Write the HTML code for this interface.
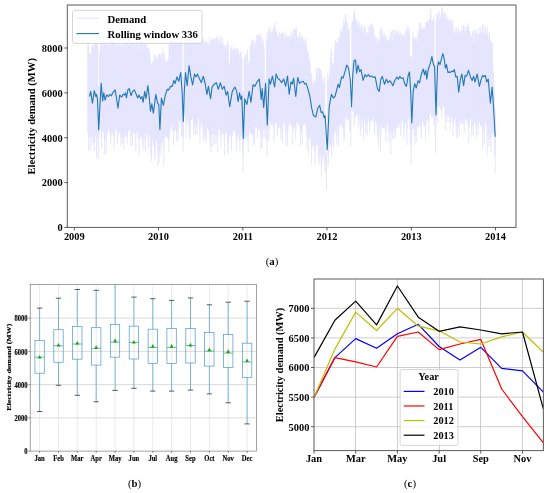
<!DOCTYPE html>
<html><head><meta charset="utf-8"><title>Electricity demand</title>
<style>html,body{margin:0;padding:0;background:#fff}svg{display:block}text{font-family:"Liberation Serif",serif;font-weight:bold;fill:#000}.cap{font-weight:normal}</style></head><body>
<svg width="550" height="493" viewBox="0 0 550 493">
<rect width="550" height="493" fill="#fff"/>
<path d="M88.00 40.1V133.2M88.23 46.7V133.2M88.46 41.0V138.7M88.69 50.7V150.9M88.92 52.3V137.3M89.15 54.7V130.0M89.38 58.3V131.0M89.62 57.5V128.7M89.85 54.0V130.9M90.08 54.3V138.5M90.31 56.8V150.0M90.54 58.8V137.1M90.77 57.1V132.9M91.00 58.4V133.8M91.23 54.5V132.1M91.46 56.9V134.7M91.69 45.6V133.5M91.92 55.4V136.9M92.15 56.1V144.9M92.39 47.4V136.0M92.62 45.7V127.7M92.85 45.8V133.3M93.08 47.4V127.8M93.31 47.4V131.3M93.54 47.4V138.2M93.77 48.0V143.5M94.00 44.1V151.0M94.23 42.9V142.0M94.46 48.5V123.9M94.69 44.3V136.4M94.92 47.8V143.0M95.15 48.4V135.6M95.39 49.2V128.8M95.62 42.3V129.3M95.85 46.2V128.3M96.08 45.8V129.1M96.31 42.5V140.9M96.54 50.7V158.0M96.77 48.7V138.9M97.00 42.6V131.5M97.23 42.1V131.2M97.46 42.8V132.0M97.69 48.2V131.6M97.92 86.9V139.6M98.15 87.7V148.1M98.39 86.7V160.0M98.62 88.3V145.6M98.85 86.2V129.5M99.08 89.3V134.5M99.31 89.2V128.6M99.54 54.4V130.4M99.77 54.0V128.2M100.00 52.4V129.1M100.23 47.5V124.7M100.46 47.4V125.3M100.69 43.4V128.0M100.92 50.6V129.2M101.16 52.7V128.8M101.39 51.6V138.2M101.62 44.3V149.0M101.85 43.1V136.9M102.08 48.0V128.9M102.31 46.2V130.8M102.54 50.9V126.3M102.77 48.5V129.9M103.00 49.5V126.5M103.23 49.6V129.8M103.46 48.2V132.4M103.69 37.5V129.9M103.92 42.5V130.1M104.16 46.6V133.7M104.39 46.0V139.6M104.62 46.8V153.9M104.85 47.5V138.0M105.08 43.2V134.6M105.31 45.5V132.7M105.54 42.3V132.5M105.77 50.3V128.9M106.00 49.5V140.0M106.23 49.7V155.0M106.46 44.4V138.2M106.69 39.1V131.1M106.93 45.2V132.3M107.16 45.1V134.3M107.39 53.9V132.4M107.62 54.8V129.5M107.85 53.3V129.1M108.08 45.4V127.7M108.31 46.0V126.9M108.54 44.5V125.8M108.77 49.2V128.9M109.00 49.6V126.2M109.23 51.3V131.8M109.46 49.1V128.4M109.69 37.8V129.8M109.93 42.0V128.3M110.16 46.8V131.6M110.39 47.2V128.5M110.62 47.6V136.4M110.85 46.2V143.1M111.08 38.7V135.6M111.31 41.4V129.1M111.54 36.9V128.8M111.77 46.5V134.1M112.00 46.8V134.4M112.23 44.4V130.8M112.46 37.4V132.3M112.70 41.3V131.2M112.93 37.4V130.6M113.16 37.8V132.8M113.39 47.7V129.9M113.62 52.4V129.2M113.85 53.5V138.1M114.08 52.2V149.0M114.31 44.0V136.9M114.54 43.9V129.2M114.77 40.8V130.7M115.00 49.4V130.0M115.23 48.7V130.7M115.46 47.8V128.1M115.70 48.0V127.5M115.93 47.0V127.9M116.16 48.1V125.6M116.39 45.1V128.8M116.62 39.0V127.8M116.85 48.5V124.8M117.08 47.3V129.7M117.31 46.9V136.4M117.54 45.6V143.3M117.77 49.4V135.7M118.00 49.4V133.5M118.23 54.9V132.9M118.46 56.2V132.5M118.70 42.8V134.4M118.93 42.7V132.5M119.16 44.5V130.7M119.39 48.1V129.4M119.62 49.1V132.0M119.85 53.7V130.6M120.08 54.5V129.7M120.31 52.1V130.6M120.54 43.9V132.6M120.77 48.7V137.4M121.00 46.9V146.4M121.23 54.0V136.4M121.47 52.8V131.9M121.70 53.6V127.7M121.93 47.0V127.8M122.16 42.6V136.7M122.39 46.0V144.0M122.62 50.5V135.9M122.85 50.4V128.2M123.08 51.4V127.7M123.31 45.8V131.4M123.54 47.1V131.0M123.77 41.6V138.3M124.00 53.4V148.9M124.23 53.5V137.1M124.47 53.3V131.9M124.70 54.8V130.8M124.93 42.8V132.8M125.16 48.8V134.6M125.39 45.1V129.8M125.62 48.9V135.3M125.85 50.3V133.8M126.08 48.4V131.9M126.31 42.7V134.3M126.54 47.9V135.2M126.77 47.9V135.4M127.00 41.6V136.7M127.24 40.0V143.6M127.47 55.4V136.0M127.70 53.3V127.4M127.93 54.9V129.4M128.16 54.2V128.4M128.39 43.8V130.6M128.62 37.5V130.8M128.85 55.6V130.9M129.08 54.8V129.8M129.31 53.4V126.5M129.54 45.5V124.9M129.77 44.9V129.4M130.00 46.1V124.7M130.24 45.5V128.8M130.47 38.9V137.3M130.70 47.7V145.3M130.93 48.5V136.4M131.16 46.9V131.9M131.39 42.3V128.6M131.62 44.6V129.2M131.85 48.2V134.1M132.08 39.7V137.7M132.31 52.1V146.3M132.54 50.4V136.7M132.77 51.6V130.9M133.00 40.1V127.3M133.24 42.2V129.5M133.47 47.4V132.2M133.70 43.1V131.8M133.93 53.3V129.8M134.16 53.5V129.9M134.39 44.8V135.1M134.62 44.2V129.6M134.85 47.5V132.0M135.08 39.2V128.3M135.31 48.1V127.4M135.54 51.8V139.2M135.77 52.8V151.1M136.01 53.0V137.9M136.24 42.5V127.2M136.47 41.3V128.7M136.70 45.8V131.5M136.93 40.3V130.8M137.16 49.9V128.8M137.39 48.9V132.7M137.62 51.2V132.1M137.85 51.3V129.6M138.08 44.7V129.4M138.31 48.3V133.2M138.54 44.2V129.8M138.77 43.3V140.6M139.01 53.9V155.4M139.24 54.1V138.9M139.47 55.9V136.2M139.70 54.1V137.5M139.93 43.6V134.7M140.16 40.3V137.0M140.39 41.9V137.1M140.62 49.3V131.1M140.85 47.6V129.7M141.08 49.2V128.9M141.31 39.3V131.8M141.54 45.0V133.0M141.78 42.5V132.1M142.01 38.2V137.9M142.24 51.3V146.2M142.47 51.1V137.0M142.70 49.0V132.1M142.93 40.9V128.7M143.16 42.6V132.2M143.39 49.3V127.1M143.62 49.2V139.1M143.85 48.0V150.2M144.08 49.3V137.9M144.31 43.1V125.9M144.54 47.6V132.3M144.78 44.8V127.8M145.01 49.9V133.1M145.24 50.9V139.6M145.47 49.8V151.8M145.70 49.2V138.3M145.93 45.8V132.7M146.16 42.7V129.8M146.39 43.4V130.5M146.62 45.9V128.3M146.85 58.4V133.3M147.08 56.4V130.2M147.31 55.9V133.0M147.54 48.2V132.1M147.78 49.9V136.6M148.01 49.9V134.2M148.24 47.9V140.4M148.47 58.5V148.7M148.70 60.5V140.4M148.93 61.7V132.3M149.16 63.5V130.9M149.39 49.5V129.8M149.62 58.8V134.8M149.85 53.3V130.1M150.08 61.0V134.7M150.31 63.0V136.2M150.55 66.6V146.1M150.78 67.7V152.7M151.01 65.1V162.0M151.24 69.5V150.8M151.47 64.7V146.4M151.70 71.4V159.1M151.93 70.8V145.1M152.16 63.2V135.5M152.39 61.1V135.5M152.62 64.0V139.1M152.85 67.1V138.9M153.08 62.4V138.4M153.31 66.5V143.4M153.55 68.1V145.0M153.78 65.4V140.1M154.01 61.2V141.7M154.24 55.5V139.9M154.47 54.8V147.0M154.70 55.9V154.5M154.93 54.6V161.0M155.16 63.2V151.1M155.39 60.9V139.6M155.62 61.3V140.7M155.85 58.9V138.5M156.08 59.9V142.3M156.32 58.1V138.4M156.55 56.7V140.3M156.78 59.2V141.1M157.01 62.6V135.5M157.24 65.5V135.5M157.47 65.1V139.0M157.70 60.5V149.8M157.93 58.6V166.2M158.16 59.6V148.1M158.39 54.0V139.7M158.62 65.8V148.3M158.85 65.6V154.4M159.08 65.0V163.0M159.32 64.5V152.7M159.55 54.4V140.1M159.78 55.6V142.0M160.01 54.1V137.9M160.24 62.6V142.4M160.47 63.5V137.9M160.70 63.7V146.7M160.93 56.6V155.1M161.16 56.8V145.5M161.39 53.0V139.8M161.62 56.2V142.2M161.85 53.5V143.6M162.09 67.3V138.0M162.32 67.7V141.3M162.55 66.7V138.3M162.78 58.6V135.6M163.01 47.5V134.4M163.24 55.2V136.1M163.47 59.9V148.6M163.70 63.3V165.2M163.93 63.1V146.4M164.16 62.0V135.1M164.39 59.4V138.7M164.62 52.5V135.8M164.85 59.3V137.0M165.09 62.5V136.9M165.32 66.3V135.5M165.55 66.3V132.1M165.78 67.7V131.7M166.01 60.7V134.3M166.24 62.7V131.3M166.47 61.5V135.9M166.70 63.4V135.0M166.93 62.1V136.4M167.16 64.5V137.8M167.39 64.4V136.6M167.62 60.7V138.2M167.85 62.5V136.4M168.09 63.5V133.1M168.32 59.7V134.2M168.55 61.3V140.6M168.78 61.5V152.4M169.01 45.3V138.6M169.24 46.0V131.8M169.47 39.3V134.4M169.70 47.9V130.3M169.93 49.1V132.3M170.16 43.6V128.3M170.39 43.3V127.9M170.62 46.3V125.1M170.86 39.6V127.7M171.09 44.6V123.7M171.32 41.6V125.9M171.55 48.6V124.2M171.78 49.3V122.7M172.01 48.6V125.1M172.24 45.0V125.9M172.47 42.9V129.7M172.70 34.7V130.5M172.93 50.7V129.2M173.16 51.4V126.7M173.39 43.0V134.3M173.62 39.0V145.3M173.86 44.1V132.6M174.09 38.8V124.3M174.32 37.3V129.6M174.55 38.4V126.1M174.78 45.9V127.9M175.01 42.9V127.6M175.24 45.3V129.7M175.47 38.1V130.1M175.70 43.0V128.9M175.93 44.7V124.4M176.16 36.1V125.4M176.39 43.4V131.4M176.63 50.8V141.0M176.86 51.6V129.9M177.09 51.2V120.1M177.32 50.5V121.9M177.55 43.6V122.1M177.78 40.4V130.3M178.01 44.6V139.8M178.24 43.0V128.9M178.47 42.3V119.7M178.70 44.0V120.8M178.93 42.6V116.7M179.16 38.6V121.2M179.39 39.4V115.7M179.63 41.5V116.1M179.86 43.1V118.9M180.09 42.2V119.2M180.32 40.4V123.2M180.55 43.9V120.5M180.78 39.2V120.7M181.01 35.9V119.9M181.24 39.7V127.2M181.47 48.6V135.8M181.70 50.0V125.9M181.93 36.5V120.9M182.16 78.3V120.9M182.39 77.4V115.5M182.63 78.1V128.4M182.86 79.6V137.7M183.09 77.1V151.0M183.32 76.8V135.0M183.55 78.4V118.8M183.78 79.3V118.3M184.01 76.3V117.0M184.24 42.0V115.7M184.47 39.6V111.7M184.70 43.4V110.9M184.93 52.0V112.8M185.16 50.0V115.0M185.40 51.0V111.8M185.63 50.4V114.4M185.86 41.2V125.2M186.09 42.7V137.8M186.32 48.8V123.7M186.55 49.5V119.3M186.78 34.5V113.8M187.01 35.4V116.0M187.24 43.0V115.3M187.47 43.8V116.8M187.70 44.6V115.6M187.93 40.7V119.8M188.16 47.4V121.4M188.40 48.7V122.8M188.63 40.9V119.8M188.86 40.5V125.8M189.09 43.2V137.9M189.32 39.5V124.5M189.55 34.5V125.8M189.78 48.1V131.2M190.01 47.7V139.0M190.24 48.1V129.7M190.47 41.3V117.1M190.70 38.9V118.3M190.93 44.0V118.5M191.17 39.8V120.2M191.40 38.0V120.1M191.63 47.8V119.1M191.86 49.5V117.8M192.09 40.5V116.1M192.32 38.4V115.1M192.55 34.3V116.0M192.78 33.7V115.3M193.01 37.4V117.7M193.24 48.0V118.6M193.47 49.8V126.0M193.70 50.3V135.0M193.93 42.7V125.2M194.17 43.9V119.8M194.40 41.7V122.1M194.63 46.7V123.5M194.86 46.6V124.6M195.09 47.4V126.7M195.32 41.9V135.5M195.55 44.1V125.9M195.78 42.9V120.8M196.01 41.3V122.7M196.24 42.9V123.4M196.47 49.9V118.5M196.70 49.5V126.8M196.94 50.1V134.5M197.17 43.8V126.2M197.40 44.9V121.4M197.63 42.7V122.0M197.86 42.1V118.7M198.09 49.7V115.9M198.32 47.3V118.3M198.55 48.3V115.5M198.78 49.6V117.5M199.01 41.6V116.1M199.24 36.3V115.4M199.47 38.3V121.7M199.70 41.1V130.2M199.94 45.5V142.9M200.17 46.3V129.0M200.40 47.1V119.0M200.63 41.6V120.1M200.86 39.4V122.4M201.09 45.7V118.7M201.32 43.0V118.3M201.55 46.1V122.1M201.78 46.7V122.5M202.01 45.1V126.0M202.24 40.2V122.7M202.47 44.8V125.7M202.70 41.0V125.3M202.94 47.5V125.8M203.17 38.1V130.3M203.40 44.7V140.0M203.63 45.6V129.4M203.86 47.2V121.4M204.09 42.4V124.2M204.32 41.0V121.1M204.55 46.6V131.4M204.78 45.0V136.2M205.01 47.0V143.0M205.24 46.4V134.8M205.47 45.1V122.7M205.71 41.5V123.7M205.94 40.7V122.5M206.17 43.3V131.0M206.40 45.7V140.0M206.63 44.5V130.2M206.86 48.1V119.9M207.09 50.2V125.1M207.32 46.7V121.7M207.55 42.2V122.1M207.78 45.6V127.4M208.01 42.7V127.9M208.24 44.5V125.3M208.47 45.3V130.8M208.71 44.8V127.0M208.94 47.3V129.8M209.17 45.3V124.5M209.40 43.4V124.4M209.63 45.0V133.4M209.86 36.8V138.6M210.09 52.6V146.0M210.32 52.2V137.1M210.55 52.7V130.4M210.78 44.3V135.8M211.01 39.6V152.1M211.24 40.6V134.2M211.48 45.1V126.5M211.71 42.9V126.9M211.94 47.5V124.7M212.17 45.6V123.1M212.40 46.7V123.7M212.63 39.3V134.8M212.86 39.6V146.7M213.09 38.3V133.6M213.32 44.5V124.7M213.55 40.2V126.0M213.78 49.8V123.7M214.01 49.6V128.1M214.24 50.5V134.6M214.48 49.2V144.5M214.71 41.3V133.7M214.94 38.5V125.1M215.17 38.9V126.7M215.40 51.2V123.5M215.63 49.3V127.8M215.86 51.9V134.8M216.09 37.2V143.6M216.32 44.8V134.0M216.55 38.8V129.0M216.78 43.1V132.4M217.01 45.3V126.4M217.24 44.8V127.6M217.48 37.4V137.8M217.71 39.8V152.1M217.94 35.9V136.4M218.17 44.1V130.2M218.40 51.5V125.3M218.63 50.8V130.6M218.86 50.6V126.6M219.09 49.6V129.5M219.32 45.2V127.3M219.55 40.5V129.9M219.78 44.6V128.5M220.01 44.5V126.2M220.25 46.6V123.2M220.48 44.7V126.4M220.71 35.5V136.9M220.94 46.2V146.7M221.17 43.6V135.9M221.40 41.9V126.8M221.63 47.8V133.2M221.86 46.2V134.1M222.09 45.3V128.9M222.32 48.2V132.6M222.55 38.2V131.2M222.78 43.5V128.6M223.01 44.0V133.3M223.25 44.1V130.1M223.48 48.2V131.4M223.71 48.2V134.7M223.94 50.1V132.0M224.17 50.2V140.3M224.40 49.4V155.7M224.63 44.9V138.7M224.86 50.7V133.9M225.09 45.1V133.0M225.32 55.3V133.5M225.55 52.8V132.5M225.78 53.8V132.6M226.02 48.3V129.2M226.25 45.4V127.5M226.48 50.6V128.6M226.71 49.5V133.1M226.94 49.3V131.1M227.17 50.9V131.1M227.40 50.2V133.0M227.63 43.0V139.9M227.86 40.9V151.8M228.09 44.2V154.0M228.32 64.4V144.0M228.55 67.9V132.3M228.78 64.3V130.1M229.02 66.9V133.2M229.25 64.5V134.3M229.48 63.4V135.4M229.71 65.4V135.1M229.94 67.3V134.8M230.17 66.9V133.4M230.40 56.3V135.7M230.63 47.9V132.1M230.86 51.3V131.0M231.09 45.4V140.0M231.32 51.8V149.9M231.55 49.8V139.1M231.78 54.9V131.9M232.02 54.5V130.7M232.25 57.3V130.9M232.48 57.4V135.7M232.71 50.8V131.6M232.94 48.4V129.6M233.17 51.0V131.1M233.40 49.8V131.4M233.63 54.7V131.4M233.86 55.4V128.4M234.09 49.2V128.1M234.32 46.9V129.9M234.55 50.5V131.0M234.79 48.5V128.5M235.02 55.5V130.9M235.25 56.2V133.0M235.48 55.7V133.6M235.71 50.6V135.4M235.94 52.2V133.1M236.17 48.8V141.1M236.40 50.5V150.5M236.63 58.0V140.1M236.86 58.2V131.2M237.09 57.0V134.5M237.32 57.4V132.4M237.55 48.0V137.1M237.79 54.4V135.0M238.02 55.6V136.2M238.25 53.9V137.8M238.48 54.8V134.7M238.71 51.1V139.3M238.94 55.7V135.2M239.17 57.2V134.6M239.40 56.1V132.7M239.63 53.4V141.5M239.86 63.1V150.6M240.09 61.9V140.6M240.32 64.9V134.0M240.56 54.1V135.7M240.79 52.0V134.4M241.02 51.6V135.9M241.25 56.9V131.7M241.48 60.5V131.4M241.71 63.2V133.3M241.94 57.4V132.6M242.17 90.2V132.7M242.40 93.5V134.0M242.63 93.1V145.2M242.86 92.4V156.7M243.09 93.3V173.0M243.32 92.6V153.4M243.56 90.9V137.4M243.79 93.5V138.1M244.02 90.6V135.1M244.25 56.8V139.7M244.48 57.3V134.6M244.71 57.7V136.2M244.94 59.1V135.2M245.17 59.3V136.9M245.40 55.5V136.0M245.63 58.1V138.2M245.86 54.1V137.0M246.09 65.1V133.9M246.33 64.9V137.5M246.56 65.2V136.3M246.79 64.1V130.8M247.02 55.6V134.8M247.25 52.7V133.5M247.48 49.4V128.2M247.71 56.1V132.2M247.94 60.4V141.7M248.17 60.6V152.1M248.40 62.5V140.5M248.63 65.3V132.2M248.86 63.8V131.8M249.09 63.6V132.0M249.33 64.5V130.7M249.56 63.5V130.7M249.79 62.9V129.4M250.02 63.8V133.3M250.25 46.6V132.9M250.48 46.0V131.2M250.71 48.1V133.3M250.94 49.7V129.1M251.17 48.6V135.0M251.40 47.2V133.9M251.63 39.6V134.5M251.86 45.0V134.7M252.09 40.2V133.7M252.33 44.2V134.0M252.56 53.0V132.4M252.79 51.2V126.9M253.02 43.9V136.5M253.25 45.3V145.6M253.48 49.3V134.7M253.71 39.3V127.6M253.94 49.0V127.2M254.17 48.6V128.4M254.40 47.0V134.9M254.63 44.0V144.4M254.86 46.7V133.5M255.10 41.0V123.3M255.33 49.9V126.9M255.56 48.9V123.9M255.79 49.7V125.2M256.02 47.8V125.1M256.25 42.0V122.8M256.48 44.8V127.7M256.71 35.1V125.7M256.94 40.1V126.9M257.17 46.9V126.6M257.40 48.2V132.0M257.63 45.5V138.9M257.86 35.4V130.9M258.10 36.4V128.5M258.33 34.8V126.2M258.56 41.3V126.2M258.79 40.6V126.8M259.02 39.8V129.6M259.25 38.5V128.4M259.48 34.5V127.0M259.71 35.1V130.3M259.94 40.9V125.3M260.17 32.8V127.9M260.40 47.4V127.6M260.63 50.3V134.1M260.87 44.2V149.0M261.10 44.0V132.3M261.33 39.2V122.0M261.56 43.0V132.7M261.79 36.8V139.0M262.02 50.0V148.0M262.25 50.1V137.2M262.48 42.1V124.0M262.71 43.7V126.0M262.94 47.8V125.4M263.17 44.4V123.8M263.40 48.9V124.2M263.63 39.5V123.5M263.87 48.9V130.4M264.10 49.8V137.7M264.33 79.1V129.4M264.56 80.8V124.3M264.79 79.2V126.3M265.02 84.0V127.7M265.25 83.5V126.9M265.48 82.3V123.3M265.71 79.8V130.4M265.94 83.3V139.1M266.17 80.4V129.3M266.40 40.8V121.9M266.63 40.0V132.8M266.87 32.4V142.3M267.10 42.4V156.0M267.33 43.0V139.6M267.56 43.4V118.9M267.79 41.5V123.1M268.02 37.4V122.1M268.25 35.4V119.0M268.48 28.9V119.7M268.71 37.1V130.1M268.94 36.1V140.9M269.17 36.3V128.7M269.40 31.6V119.3M269.64 34.0V119.8M269.87 31.1V119.7M270.10 27.0V116.7M270.33 36.2V121.4M270.56 40.0V121.8M270.79 41.7V121.4M271.02 40.9V125.0M271.25 41.4V122.8M271.48 32.6V125.5M271.71 32.4V119.8M271.94 36.4V119.4M272.17 34.0V120.1M272.40 35.0V121.5M272.64 34.4V119.8M272.87 31.9V124.5M273.10 30.6V126.8M273.33 29.1V124.9M273.56 28.0V125.5M273.79 38.1V129.9M274.02 37.2V142.5M274.25 37.6V128.4M274.48 26.6V122.7M274.71 26.1V121.6M274.94 28.5V120.9M275.17 22.4V118.4M275.41 31.0V121.6M275.64 31.2V119.3M275.87 30.8V122.6M276.10 32.3V123.3M276.33 33.5V123.3M276.56 35.5V119.7M276.79 30.9V123.8M277.02 37.6V123.5M277.25 35.6V127.7M277.48 35.5V136.2M277.71 35.7V126.7M277.94 37.9V122.2M278.17 36.8V119.5M278.41 39.5V124.6M278.64 37.8V120.9M278.87 37.8V127.0M279.10 35.9V127.6M279.33 38.6V126.8M279.56 33.6V122.8M279.79 32.3V126.4M280.02 42.1V122.8M280.25 41.6V123.0M280.48 43.1V121.5M280.71 37.7V129.9M280.94 33.1V139.9M281.18 36.6V129.0M281.41 33.5V120.6M281.64 38.1V122.9M281.87 43.3V123.3M282.10 45.5V124.7M282.33 45.6V131.4M282.56 33.0V142.9M282.79 37.2V130.4M283.02 31.4V119.9M283.25 42.4V115.8M283.48 42.5V120.4M283.71 41.0V121.2M283.94 38.3V118.2M284.18 31.8V120.5M284.41 40.5V122.3M284.64 44.9V125.0M284.87 45.6V121.3M285.10 47.0V122.3M285.33 39.8V122.7M285.56 37.2V123.7M285.79 35.2V132.6M286.02 42.2V145.2M286.25 42.7V131.2M286.48 42.6V124.7M286.71 38.2V126.5M286.94 33.8V127.3M287.18 40.3V123.9M287.41 37.6V133.2M287.64 47.6V147.0M287.87 48.3V131.7M288.10 49.1V121.4M288.33 49.0V125.5M288.56 36.7V120.6M288.79 37.2V123.3M289.02 48.7V120.7M289.25 48.5V119.3M289.48 48.1V120.5M289.71 35.1V123.2M289.95 42.1V121.4M290.18 37.2V122.6M290.41 40.0V122.9M290.64 46.8V126.2M290.87 46.5V123.1M291.10 38.7V123.0M291.33 34.3V122.4M291.56 31.1V122.0M291.79 32.8V126.4M292.02 38.4V125.9M292.25 39.7V126.5M292.48 38.8V132.8M292.71 37.4V144.7M292.95 37.3V131.5M293.18 37.0V129.0M293.41 33.2V125.4M293.64 28.8V126.3M293.87 37.6V123.5M294.10 38.6V128.3M294.33 29.7V125.6M294.56 33.6V123.1M294.79 28.6V124.6M295.02 28.9V124.7M295.25 30.4V126.6M295.48 40.4V131.4M295.72 41.0V139.4M295.95 39.9V130.5M296.18 32.0V121.3M296.41 27.5V122.9M296.64 34.3V120.6M296.87 39.4V122.3M297.10 39.9V122.7M297.33 40.9V122.6M297.56 40.3V121.9M297.79 35.9V121.0M298.02 37.9V122.2M298.25 38.1V124.8M298.48 43.2V124.3M298.72 45.0V122.3M298.95 44.2V125.0M299.18 42.0V125.7M299.41 42.7V124.7M299.64 32.3V126.5M299.87 33.5V126.4M300.10 38.1V133.2M300.33 43.7V145.3M300.56 45.5V131.8M300.79 43.3V125.7M301.02 44.8V128.5M301.25 37.3V123.4M301.48 39.7V127.7M301.72 35.7V126.2M301.95 44.6V132.9M302.18 44.0V144.4M302.41 44.3V131.6M302.64 44.8V119.9M302.87 36.9V124.2M303.10 38.5V122.7M303.33 42.2V125.6M303.56 43.2V122.8M303.79 44.5V120.3M304.02 44.0V123.5M304.25 40.9V119.5M304.49 41.5V122.3M304.72 39.9V124.3M304.95 43.2V122.7M305.18 48.5V123.2M305.41 48.1V120.8M305.64 48.6V124.8M305.87 45.3V126.3M306.10 37.8V124.6M306.33 45.2V125.4M306.56 43.8V128.1M306.79 50.7V135.9M307.02 50.2V149.9M307.25 51.1V135.7M307.49 52.9V131.9M307.72 54.0V129.4M307.95 52.8V133.0M308.18 51.7V140.1M308.41 55.8V154.8M308.64 65.6V139.8M308.87 65.9V133.1M309.10 69.8V134.1M309.33 57.8V137.8M309.56 60.9V134.2M309.79 65.6V138.0M310.02 66.5V133.7M310.26 75.1V132.7M310.49 74.2V135.3M310.72 72.5V135.8M310.95 73.0V138.9M311.18 73.3V140.1M311.41 74.3V149.3M311.64 76.5V164.8M311.87 76.0V148.8M312.10 86.1V140.5M312.33 90.0V145.1M312.56 89.7V140.9M312.79 82.0V141.0M313.02 86.7V142.5M313.26 84.8V143.9M313.49 87.3V143.5M313.72 93.4V146.3M313.95 91.6V144.7M314.18 91.9V144.4M314.41 79.8V147.0M314.64 82.6V147.7M314.87 82.4V152.7M315.10 82.0V165.4M315.33 85.9V151.7M315.56 84.1V144.1M315.79 81.5V145.8M316.02 80.3V145.4M316.26 74.0V142.5M316.49 72.7V141.8M316.72 68.2V144.1M316.95 74.3V142.2M317.18 79.1V144.4M317.41 79.6V145.9M317.64 80.8V145.8M317.87 74.6V143.7M318.10 66.9V140.9M318.33 73.5V154.3M318.56 75.8V163.9M318.79 76.9V153.6M319.03 69.3V145.3M319.26 72.8V147.5M319.49 68.2V146.8M319.72 70.5V155.3M319.95 72.8V164.7M320.18 77.3V154.6M320.41 77.1V147.9M320.64 69.4V149.4M320.87 70.0V152.6M321.10 74.5V147.3M321.33 75.1V160.2M321.56 76.7V177.1M321.79 79.8V159.2M322.03 78.6V162.0M322.26 81.6V158.6M322.49 81.0V154.7M322.72 82.4V155.8M322.95 77.2V156.5M323.18 83.2V154.9M323.41 85.8V152.1M323.64 84.5V152.6M323.87 84.2V147.9M324.10 86.9V149.5M324.33 81.2V152.9M324.56 83.4V161.9M324.80 76.9V173.6M325.03 154.0V161.0M325.26 152.3V154.3M325.49 148.8V150.8M325.72 148.9V150.9M325.95 151.3V161.6M326.18 154.2V173.3M326.41 152.7V190.0M326.64 153.8V170.0M326.87 146.2V148.2M327.10 147.3V149.3M327.33 149.2V151.2M327.56 80.6V152.4M327.80 73.0V148.8M328.03 80.0V155.0M328.26 87.7V166.1M328.49 86.7V152.8M328.72 88.3V146.7M328.95 79.5V145.7M329.18 77.1V144.1M329.41 78.7V144.7M329.64 74.8V145.7M329.87 77.8V143.7M330.10 69.5V144.2M330.33 63.5V139.9M330.57 58.5V144.8M330.80 54.0V139.8M331.03 51.9V142.4M331.26 47.2V142.5M331.49 62.9V147.5M331.72 62.5V157.1M331.95 64.8V145.3M332.18 63.4V133.6M332.41 67.4V132.3M332.64 66.4V131.4M332.87 65.4V136.5M333.10 65.7V134.7M333.33 67.4V141.9M333.57 63.3V148.1M333.80 64.8V140.1M334.03 66.4V133.2M334.26 49.6V132.6M334.49 52.2V132.5M334.72 58.7V130.3M334.95 58.1V132.4M335.18 45.7V130.0M335.41 40.3V128.2M335.64 49.8V129.0M335.87 48.6V131.6M336.10 48.2V129.1M336.33 52.1V130.9M336.57 52.4V136.0M336.80 42.6V143.9M337.03 41.7V134.1M337.26 43.2V125.0M337.49 44.2V122.8M337.72 47.1V120.6M337.95 45.4V124.8M338.18 45.4V123.1M338.41 41.5V134.1M338.64 37.0V145.9M338.87 37.3V132.2M339.10 40.4V124.7M339.34 44.3V121.7M339.57 46.0V125.9M339.80 44.7V123.2M340.03 44.4V124.4M340.26 30.5V123.5M340.49 35.8V122.3M340.72 35.0V121.0M340.95 41.1V122.3M341.18 39.2V120.3M341.41 38.2V126.3M341.64 30.3V122.4M341.87 33.6V127.1M342.10 27.2V123.4M342.34 32.6V122.4M342.57 34.6V126.6M342.80 41.2V120.2M343.03 40.4V128.3M343.26 36.9V139.1M343.49 30.3V126.6M343.72 18.8V119.3M343.95 25.0V119.0M344.18 26.0V119.2M344.41 26.7V127.5M344.64 24.3V139.4M344.87 23.1V125.7M345.11 23.5V117.8M345.34 14.6V118.6M345.57 15.0V113.2M345.80 17.2V114.0M346.03 17.3V113.2M346.26 24.7V116.4M346.49 27.9V113.1M346.72 29.0V113.3M346.95 23.7V118.4M347.18 22.0V117.9M347.41 30.6V119.5M347.64 26.5V119.4M347.87 30.3V119.6M348.11 30.2V117.2M348.34 32.4V117.6M348.57 32.5V113.2M348.80 31.1V116.0M349.03 28.0V121.8M349.26 30.5V130.1M349.49 35.6V120.4M349.72 107.7V115.5M349.95 107.5V119.1M350.18 106.3V123.2M350.41 106.1V132.6M350.64 108.4V146.0M350.87 106.7V129.9M351.11 108.0V110.0M351.34 106.5V108.5M351.57 104.1V106.1M351.80 106.4V109.0M352.03 21.3V110.4M352.26 23.2V108.8M352.49 21.0V111.7M352.72 21.8V109.9M352.95 22.6V109.5M353.18 22.5V111.1M353.41 19.0V107.2M353.64 13.3V107.1M353.88 14.9V105.8M354.11 16.5V118.5M354.34 8.8V126.7M354.57 21.3V117.4M354.80 22.9V111.7M355.03 15.6V114.1M355.26 19.5V111.0M355.49 18.0V116.3M355.72 22.0V117.1M355.95 25.5V116.6M356.18 25.1V111.8M356.41 24.6V115.4M356.64 19.9V113.5M356.88 21.1V113.9M357.11 24.8V110.2M357.34 30.3V115.4M357.57 29.8V113.6M357.80 29.1V112.5M358.03 25.2V114.3M358.26 25.6V112.4M358.49 29.0V119.4M358.72 24.7V126.8M358.95 20.9V119.0M359.18 30.0V113.0M359.41 31.2V112.7M359.65 30.3V111.0M359.88 27.4V110.1M360.11 26.0V123.2M360.34 29.9V136.3M360.57 32.0V121.8M360.80 32.4V118.2M361.03 32.3V115.3M361.26 33.9V118.5M361.49 31.2V117.7M361.72 25.5V121.1M361.95 33.1V128.4M362.18 24.3V120.5M362.41 35.1V114.0M362.65 34.2V118.4M362.88 34.8V116.9M363.11 34.8V120.7M363.34 35.5V125.1M363.57 36.1V140.4M363.80 32.0V123.6M364.03 28.4V118.5M364.26 25.8V116.5M364.49 43.2V116.8M364.72 42.8V115.0M364.95 41.4V113.8M365.18 43.8V123.3M365.42 27.3V133.0M365.65 31.5V122.4M365.88 37.5V114.5M366.11 35.5V117.3M366.34 37.9V114.0M366.57 35.4V114.2M366.80 35.4V124.4M367.03 37.0V135.4M367.26 32.4V123.4M367.49 33.5V111.0M367.72 41.7V115.5M367.95 43.3V111.1M368.18 44.1V111.0M368.42 32.0V112.1M368.65 34.7V117.4M368.88 26.5V119.7M369.11 36.4V120.2M369.34 27.0V121.3M369.57 35.0V123.8M369.80 37.0V131.0M370.03 34.1V123.1M370.26 33.9V120.1M370.49 28.3V118.4M370.72 24.2V119.9M370.95 37.8V117.5M371.18 37.0V119.6M371.42 36.6V118.2M371.65 23.2V116.9M371.88 24.5V120.3M372.11 23.6V116.1M372.34 26.7V120.6M372.57 32.6V117.3M372.80 39.8V115.7M373.03 41.0V114.0M373.26 35.4V112.9M373.49 27.4V112.8M373.72 34.2V117.3M373.95 38.5V115.0M374.19 34.5V125.9M374.42 37.8V134.2M374.65 40.3V125.4M374.88 41.4V118.9M375.11 38.4V121.2M375.34 37.5V118.3M375.57 44.7V118.9M375.80 44.6V118.8M376.03 36.3V122.0M376.26 44.4V121.3M376.49 45.3V121.7M376.72 45.6V124.4M376.95 46.4V122.3M377.19 41.0V127.4M377.42 39.3V128.9M377.65 38.6V137.6M377.88 52.0V128.3M378.11 53.9V131.5M378.34 51.8V137.9M378.57 47.6V147.0M378.80 45.5V136.1M379.03 40.5V125.7M379.26 38.9V123.0M379.49 46.4V124.8M379.72 45.1V125.2M379.96 44.3V124.8M380.19 29.7V125.4M380.42 28.8V134.8M380.65 37.1V151.7M380.88 28.9V132.9M381.11 30.4V121.2M381.34 39.1V123.3M381.57 39.7V121.8M381.80 39.7V123.2M382.03 27.7V124.6M382.26 38.9V122.2M382.49 33.7V126.2M382.72 35.9V128.1M382.96 35.6V127.6M383.19 38.5V128.1M383.42 38.1V126.9M383.65 38.9V125.7M383.88 40.4V122.9M384.11 32.3V126.7M384.34 37.6V126.6M384.57 35.3V126.2M384.80 39.5V127.0M385.03 41.7V125.4M385.26 39.5V128.2M385.49 36.3V125.5M385.72 40.9V132.1M385.96 35.6V141.5M386.19 40.5V131.1M386.42 43.0V120.0M386.65 41.5V123.9M386.88 42.0V122.3M387.11 39.8V122.4M387.34 42.1V122.2M387.57 41.7V120.8M387.80 42.7V120.3M388.03 39.2V122.7M388.26 39.7V125.6M388.49 41.2V122.4M388.73 41.6V132.7M388.96 44.5V142.8M389.19 45.1V131.6M389.42 46.8V121.7M389.65 40.0V123.9M389.88 31.7V125.4M390.11 39.3V122.0M390.34 39.2V125.1M390.57 37.2V136.2M390.80 41.9V154.3M391.03 40.6V133.9M391.26 39.7V131.5M391.49 31.4V131.2M391.73 39.2V127.7M391.96 38.8V128.5M392.19 30.4V131.3M392.42 41.8V139.4M392.65 41.6V130.3M392.88 40.7V124.7M393.11 40.4V122.3M393.34 40.7V122.2M393.57 29.7V127.5M393.80 33.8V130.8M394.03 39.5V138.7M394.26 38.9V129.7M394.50 39.9V125.3M394.73 34.9V121.5M394.96 38.6V118.5M395.19 28.7V120.6M395.42 40.9V130.2M395.65 40.8V137.9M395.88 39.9V129.2M396.11 38.9V122.3M396.34 31.1V124.0M396.57 35.6V127.7M396.80 37.0V127.5M397.03 33.0V127.4M397.26 40.1V122.7M397.50 40.5V125.3M397.73 35.4V126.1M397.96 32.5V125.0M398.19 29.4V124.2M398.42 32.0V121.4M398.65 37.7V123.3M398.88 38.1V127.9M399.11 38.6V122.4M399.34 41.0V124.0M399.57 36.8V121.3M399.80 33.9V124.1M400.03 34.5V120.9M400.26 45.3V119.5M400.50 45.0V128.5M400.73 47.0V135.7M400.96 32.3V127.5M401.19 38.4V120.9M401.42 34.4V115.7M401.65 34.8V119.0M401.88 42.2V119.7M402.11 43.1V121.8M402.34 41.6V118.4M402.57 35.7V117.7M402.80 36.2V120.4M403.03 40.3V120.7M403.27 34.8V118.5M403.50 38.7V116.3M403.73 38.0V128.9M403.96 38.5V139.6M404.19 39.2V127.5M404.42 34.5V121.6M404.65 34.2V124.3M404.88 35.2V122.9M405.11 30.1V124.5M405.34 41.6V121.0M405.57 40.5V122.9M405.80 41.1V121.6M406.03 41.1V117.8M406.27 38.9V116.3M406.50 38.7V120.2M406.73 30.3V129.8M406.96 39.7V145.1M407.19 36.6V127.9M407.42 27.4V120.0M407.65 30.3V119.6M407.88 25.6V119.7M408.11 29.1V117.1M408.34 31.9V117.2M408.57 35.6V117.0M408.80 36.2V113.3M409.04 37.6V115.2M409.27 28.2V114.5M409.50 58.6V117.7M409.73 56.5V118.3M409.96 57.8V128.7M410.19 56.4V140.8M410.42 58.5V128.0M410.65 60.8V133.2M410.88 59.8V145.9M411.11 57.8V164.0M411.34 57.4V142.2M411.57 60.7V131.8M411.80 56.3V146.2M412.04 60.2V130.7M412.27 60.3V123.5M412.50 49.4V128.2M412.73 36.8V128.2M412.96 31.3V129.4M413.19 40.6V128.8M413.42 41.2V125.0M413.65 39.6V128.6M413.88 40.8V121.9M414.11 42.3V121.0M414.34 41.4V123.1M414.57 38.4V132.2M414.81 36.6V137.5M415.04 43.2V145.0M415.27 42.8V135.9M415.50 40.4V121.9M415.73 43.0V124.9M415.96 40.8V121.2M416.19 37.3V123.6M416.42 45.0V131.7M416.65 42.5V141.7M416.88 43.7V130.5M417.11 42.9V120.9M417.34 40.0V120.0M417.57 42.3V124.4M417.81 39.3V126.2M418.04 33.0V126.6M418.27 40.8V127.6M418.50 35.2V124.4M418.73 35.1V125.3M418.96 31.8V123.2M419.19 30.1V122.5M419.42 22.4V121.9M419.65 28.6V123.6M419.88 32.4V124.5M420.11 33.8V119.9M420.34 34.9V125.7M420.57 29.1V122.0M420.81 22.6V121.8M421.04 30.5V130.8M421.27 30.2V139.2M421.50 35.0V129.8M421.73 33.2V119.2M421.96 26.4V121.7M422.19 30.1V119.4M422.42 28.5V121.3M422.65 31.7V118.7M422.88 29.7V117.1M423.11 29.5V118.2M423.34 30.0V123.3M423.58 28.9V120.3M423.81 31.3V123.5M424.04 31.5V126.3M424.27 28.9V124.7M424.50 28.2V125.5M424.73 35.8V124.0M424.96 35.2V122.3M425.19 34.8V124.3M425.42 34.2V130.1M425.65 23.1V140.7M425.88 26.5V126.9M426.11 22.8V119.5M426.34 21.1V122.2M426.58 35.0V120.2M426.81 32.6V119.2M427.04 32.6V117.0M427.27 21.9V119.5M427.50 22.9V117.3M427.73 21.0V117.4M427.96 26.6V114.0M428.19 25.7V114.0M428.42 24.1V122.7M428.65 24.1V133.9M428.88 18.7V121.2M429.11 25.2V115.5M429.35 20.3V113.5M429.58 23.0V113.9M429.81 21.2V112.3M430.04 21.5V110.4M430.27 19.6V113.3M430.50 15.4V110.2M430.73 8.7V109.4M430.96 14.7V110.8M431.19 21.2V112.3M431.42 23.0V116.0M431.65 25.5V117.6M431.88 20.1V115.7M432.11 21.5V117.0M432.35 22.7V115.3M432.58 22.3V116.3M432.81 27.3V116.2M433.04 26.4V114.7M433.27 28.9V114.4M433.50 21.3V114.5M433.73 18.1V118.7M433.96 18.0V125.9M434.19 62.3V117.5M434.42 66.8V112.3M434.65 65.2V112.7M434.88 63.9V109.5M435.11 64.1V121.4M435.35 65.0V134.4M435.58 64.6V153.0M435.81 66.3V130.7M436.04 66.5V102.1M436.27 23.2V104.6M436.50 19.4V105.6M436.73 23.3V103.1M436.96 15.6V114.9M437.19 13.7V122.6M437.42 25.3V113.6M437.65 26.3V104.3M437.88 26.7V107.1M438.12 22.0V103.6M438.35 14.5V106.2M438.58 11.5V103.3M438.81 11.3V105.4M439.04 19.4V103.7M439.27 23.0V102.9M439.50 20.8V107.6M439.73 22.5V105.0M439.96 19.6V106.3M440.19 20.3V109.7M440.42 17.8V107.8M440.65 23.7V107.9M440.88 24.5V109.3M441.12 16.6V107.6M441.35 14.6V101.9M441.58 12.6V111.0M441.81 8.3V118.2M442.04 12.1V109.9M442.27 13.7V102.1M442.50 6.8V102.9M442.73 11.4V106.2M442.96 13.4V102.7M443.19 18.8V105.0M443.42 18.4V105.5M443.65 19.7V102.1M443.89 19.9V106.4M444.12 23.3V103.8M444.35 12.6V105.0M444.58 17.5V107.7M444.81 12.2V103.7M445.04 16.5V116.4M445.27 24.9V130.0M445.50 26.6V115.4M445.73 27.3V111.5M445.96 13.3V112.2M446.19 23.2V109.7M446.42 19.6V111.2M446.65 27.5V115.4M446.89 26.9V122.4M447.12 19.6V115.2M447.35 24.0V113.4M447.58 22.7V109.9M447.81 16.7V113.3M448.04 19.4V114.8M448.27 25.2V116.1M448.50 24.4V115.0M448.73 21.9V116.2M448.96 27.7V116.9M449.19 25.3V114.6M449.42 25.3V116.0M449.66 20.4V111.8M449.89 32.5V122.7M450.12 32.0V131.1M450.35 26.2V122.1M450.58 25.1V114.9M450.81 29.6V111.6M451.04 20.6V116.9M451.27 19.5V114.5M451.50 28.3V112.6M451.73 29.5V118.3M451.96 29.5V112.0M452.19 26.4V117.4M452.42 27.3V113.8M452.66 23.7V116.5M452.89 20.7V124.9M453.12 31.3V136.0M453.35 32.1V123.7M453.58 37.1V115.7M453.81 36.7V120.6M454.04 36.8V118.5M454.27 38.8V116.2M454.50 31.2V120.5M454.73 32.3V118.3M454.96 33.9V118.7M455.19 42.4V113.9M455.42 42.0V114.9M455.66 42.2V115.1M455.89 27.2V117.2M456.12 34.8V126.2M456.35 27.8V138.6M456.58 32.6V124.8M456.81 35.4V117.0M457.04 37.9V115.6M457.27 40.5V116.5M457.50 39.1V125.6M457.73 32.9V135.8M457.96 29.3V124.5M458.19 37.0V114.7M458.43 30.0V113.0M458.66 27.6V119.0M458.89 34.9V120.1M459.12 35.0V126.0M459.35 36.3V136.6M459.58 34.5V124.9M459.81 31.6V122.5M460.04 30.6V117.5M460.27 39.4V119.0M460.50 40.2V118.5M460.73 40.6V119.3M460.96 36.5V122.2M461.19 32.9V122.2M461.43 34.0V119.2M461.66 31.2V119.9M461.89 26.9V124.5M462.12 41.3V121.9M462.35 38.4V120.1M462.58 29.5V123.6M462.81 32.7V120.7M463.04 33.3V117.2M463.27 30.3V117.8M463.50 25.0V114.5M463.73 35.3V115.2M463.96 34.6V125.5M464.20 26.3V133.7M464.43 34.8V124.6M464.66 33.2V118.0M464.89 34.3V116.2M465.12 31.4V118.7M465.35 30.7V119.2M465.58 41.8V119.6M465.81 40.8V117.4M466.04 39.4V119.1M466.27 29.9V115.7M466.50 30.4V117.8M466.73 26.5V118.8M466.96 29.0V120.5M467.20 28.3V121.1M467.43 27.8V122.1M467.66 24.5V123.0M467.89 26.6V123.7M468.12 23.1V120.4M468.35 27.1V119.2M468.58 29.2V128.5M468.81 29.2V142.8M469.04 30.8V126.9M469.27 31.9V116.3M469.50 30.4V119.2M469.73 31.3V115.8M469.96 34.8V118.9M470.20 39.6V115.8M470.43 41.1V115.8M470.66 35.4V115.6M470.89 35.8V118.7M471.12 35.1V118.1M471.35 36.1V115.6M471.58 42.2V127.2M471.81 40.1V137.4M472.04 42.0V126.1M472.27 35.1V118.0M472.50 30.6V116.7M472.73 32.7V116.4M472.97 37.1V119.1M473.20 44.8V126.7M473.43 44.7V134.8M473.66 44.3V125.8M473.89 43.7V117.6M474.12 32.3V121.3M474.35 37.6V119.2M474.58 28.2V118.2M474.81 40.8V120.9M475.04 40.6V123.3M475.27 41.7V120.6M475.50 35.6V121.6M475.73 32.4V122.2M475.97 34.7V126.0M476.20 34.8V128.4M476.43 29.8V139.0M476.66 38.1V127.3M476.89 38.0V121.7M477.12 38.0V119.8M477.35 38.7V116.5M477.58 33.5V118.3M477.81 34.8V127.2M478.04 36.0V134.1M478.27 36.7V126.5M478.50 37.1V122.3M478.74 33.4V122.2M478.97 27.4V120.1M479.20 33.4V122.3M479.43 35.8V118.3M479.66 38.8V122.9M479.89 38.9V119.2M480.12 38.7V121.2M480.35 39.7V120.9M480.58 31.4V125.6M480.81 27.1V125.8M481.04 37.6V125.1M481.27 39.3V125.4M481.50 37.8V124.9M481.74 32.7V126.6M481.97 34.3V124.1M482.20 30.9V122.0M482.43 33.9V133.0M482.66 23.8V148.8M482.89 35.7V131.4M483.12 34.7V123.7M483.35 36.0V124.6M483.58 33.1V124.4M483.81 33.2V122.4M484.04 25.5V132.2M484.27 34.8V144.5M484.50 35.4V131.1M484.74 33.3V119.6M484.97 35.1V119.0M485.20 30.5V118.2M485.43 33.9V122.3M485.66 35.5V119.4M485.89 26.2V121.1M486.12 32.8V123.8M486.35 35.9V121.6M486.58 36.0V122.8M486.81 33.3V126.3M487.04 37.5V136.5M487.27 27.7V155.1M487.51 37.5V134.6M487.74 34.1V123.2M487.97 43.5V126.2M488.20 45.5V124.4M488.43 43.6V134.2M488.66 46.0V139.5M488.89 36.0V147.0M489.12 37.3V138.0M489.35 31.6V130.6M489.58 43.2V128.8M489.81 45.8V130.5M490.04 42.8V127.6M490.27 43.0V126.9M490.51 44.5V129.6M490.74 41.3V138.3M490.97 40.5V152.1M491.20 49.2V137.6M491.43 50.3V127.8M491.66 49.9V127.0M491.89 42.3V131.8M492.12 43.3V130.3M492.35 47.6V129.5M492.58 51.4V132.9M492.81 67.2V131.9M493.04 76.6V129.7M493.28 70.4V129.2M493.51 75.9V128.5M493.74 81.3V133.9M493.97 84.5V133.9M494.20 94.6V134.6M494.43 103.7V137.6M494.66 114.8V144.8M494.89 119.9V156.4M495.12 107.8V173.0M495.35 121.9V153.1M495.58 118.5V137.3" stroke="#e5e5fe" stroke-width="1" fill="none"/>
<path d="M89.5 96.5 L90.7 91.4 L92.4 103.1 L94.3 90.7 L95.8 96.5 L96.5 94.3 L97.5 99.4 L98.7 130.0 L100.0 103.8 L101.2 83.4 L102.6 100.9 L103.8 92.8 L105.1 100.1 L106.6 95.0 L108.5 96.5 L109.9 94.3 L111.4 95.8 L112.8 92.8 L115.0 89.9 L116.5 98.0 L118.0 108.2 L119.7 95.0 L121.6 97.2 L123.1 94.3 L124.5 95.0 L125.5 92.8 L126.4 98.0 L127.9 89.9 L129.2 88.5 L131.1 95.8 L132.6 91.4 L134.3 89.9 L136.2 94.3 L137.7 98.0 L139.1 95.0 L140.6 98.7 L142.0 96.5 L143.1 102.3 L144.7 91.4 L146.0 98.7 L147.9 85.5 L149.3 98.0 L150.5 111.1 L151.8 103.8 L153.4 113.3 L155.8 94.4 L157.6 103.2 L158.8 104.6 L159.9 129.5 L161.4 98.1 L163.4 105.4 L165.3 95.1 L167.2 89.3 L168.7 90.0 L170.4 86.4 L172.2 86.4 L173.8 80.5 L175.1 83.5 L177.0 76.9 L178.8 81.3 L180.7 72.5 L182.1 91.5 L183.3 121.4 L184.3 91.5 L185.5 72.5 L187.2 85.7 L189.1 65.9 L190.9 76.9 L192.6 84.9 L194.5 74.0 L196.0 76.9 L197.4 74.0 L199.6 79.1 L201.4 82.7 L203.3 76.2 L205.2 83.5 L206.9 94.4 L208.4 86.4 L210.6 98.8 L212.0 87.1 L214.2 84.2 L216.4 82.7 L218.3 89.3 L220.4 82.7 L222.3 89.3 L224.2 86.4 L226.2 95.1 L227.7 91.5 L229.7 106.7 L232.3 91.4 L234.9 87.0 L236.7 91.4 L238.1 101.6 L239.6 92.8 L240.8 99.4 L241.8 95.8 L243.3 138.5 L244.7 98.7 L246.9 104.5 L249.1 91.4 L251.0 102.3 L253.0 84.8 L254.9 86.3 L257.1 81.9 L259.3 79.0 L261.2 99.4 L262.2 88.5 L263.7 107.4 L265.6 83.4 L267.3 125.0 L269.1 79.0 L270.5 84.1 L272.4 76.1 L274.6 87.0 L276.1 73.9 L277.8 78.2 L279.7 79.7 L281.6 82.6 L283.7 79.0 L285.6 86.3 L287.5 76.1 L289.2 94.3 L291.0 81.9 L292.4 84.1 L293.6 78.2 L295.8 96.5 L297.7 77.5 L299.5 83.4 L301.2 81.9 L303.2 81.2 L304.7 84.1 L306.1 83.4 L308.0 89.2 L309.9 96.5 L311.7 108.2 L313.4 115.5 L315.8 116.9 L317.8 108.2 L319.7 105.3 L321.2 112.6 L322.6 111.8 L324.1 117.7 L325.1 115.5 L327.2 149.5 L329.2 106.7 L331.4 94.3 L333.3 98.0 L335.0 96.5 L336.5 90.7 L338.2 84.1 L339.4 87.7 L341.6 76.8 L343.1 78.2 L345.0 71.7 L346.7 65.1 L348.5 68.0 L350.4 80.4 L351.5 106.7 L352.8 74.6 L354.0 60.7 L355.5 60.0 L356.6 73.1 L358.1 65.1 L359.6 71.7 L361.0 69.5 L363.1 80.4 L365.0 74.6 L366.4 76.8 L368.3 74.6 L370.1 76.8 L371.8 76.1 L373.7 77.5 L375.2 76.8 L377.4 88.5 L379.1 91.6 L380.8 79.2 L382.3 76.3 L384.5 84.3 L386.4 79.2 L388.1 82.8 L389.9 80.7 L391.4 82.8 L392.8 85.8 L394.7 80.7 L396.9 77.0 L398.4 79.2 L399.8 76.3 L401.3 78.5 L403.0 77.7 L404.9 84.3 L406.4 86.5 L408.3 74.8 L409.5 71.9 L410.8 93.8 L411.8 123.0 L413.2 90.9 L414.7 83.6 L416.2 88.0 L418.1 80.7 L419.5 82.8 L421.4 74.1 L423.2 69.0 L424.6 74.8 L425.8 70.4 L426.8 79.2 L428.3 69.0 L430.2 63.9 L431.9 56.6 L433.4 64.6 L434.6 66.8 L436.0 115.0 L437.5 67.5 L438.5 61.7 L440.0 64.6 L441.4 58.8 L442.9 53.6 L444.3 59.5 L445.4 68.2 L446.5 64.6 L448.0 72.6 L449.7 71.9 L450.2 72.5 L451.7 71.1 L453.1 71.8 L454.3 69.6 L455.8 76.9 L457.2 76.2 L458.7 92.2 L460.4 79.1 L461.9 74.0 L463.6 85.7 L465.1 75.4 L466.6 76.2 L468.5 70.3 L470.4 76.9 L472.1 80.5 L473.6 76.2 L475.0 82.0 L477.2 74.0 L479.4 86.4 L481.2 79.1 L482.6 75.4 L483.8 76.9 L485.3 75.4 L486.7 82.0 L488.2 79.1 L490.4 103.2 L492.1 87.1 L493.3 103.2 L495.2 136.8" stroke="#1f77b4" stroke-width="1.1" fill="none" stroke-linejoin="round"/>
<rect x="67.3" y="5.0" width="448.7" height="222.4" fill="none" stroke="#5c5c5c" stroke-width="1"/>
<path d="M64.3 227.4H67.3" stroke="#333" stroke-width="0.8"/>
<text x="62.6" y="231.2" font-size="10.4" text-anchor="end">0</text>
<path d="M64.3 182.55H67.3" stroke="#333" stroke-width="0.8"/>
<text x="62.6" y="186.4" font-size="10.4" text-anchor="end">2000</text>
<path d="M64.3 137.7H67.3" stroke="#333" stroke-width="0.8"/>
<text x="62.6" y="141.5" font-size="10.4" text-anchor="end">4000</text>
<path d="M64.3 92.85H67.3" stroke="#333" stroke-width="0.8"/>
<text x="62.6" y="96.6" font-size="10.4" text-anchor="end">6000</text>
<path d="M64.3 48.0H67.3" stroke="#333" stroke-width="0.8"/>
<text x="62.6" y="51.8" font-size="10.4" text-anchor="end">8000</text>
<path d="M74.3 227.4V230.4" stroke="#333" stroke-width="0.8"/>
<text x="74.3" y="240.1" font-size="10.4" text-anchor="middle">2009</text>
<path d="M158.5 227.4V230.4" stroke="#333" stroke-width="0.8"/>
<text x="158.5" y="240.1" font-size="10.4" text-anchor="middle">2010</text>
<path d="M242.8 227.4V230.4" stroke="#333" stroke-width="0.8"/>
<text x="242.8" y="240.1" font-size="10.4" text-anchor="middle">2011</text>
<path d="M327.0 227.4V230.4" stroke="#333" stroke-width="0.8"/>
<text x="327.0" y="240.1" font-size="10.4" text-anchor="middle">2012</text>
<path d="M411.3 227.4V230.4" stroke="#333" stroke-width="0.8"/>
<text x="411.3" y="240.1" font-size="10.4" text-anchor="middle">2013</text>
<path d="M495.5 227.4V230.4" stroke="#333" stroke-width="0.8"/>
<text x="495.5" y="240.1" font-size="10.4" text-anchor="middle">2014</text>
<text transform="translate(35.2,116.3) rotate(-90)" font-size="10.6" text-anchor="middle">Electricity demand (MW)</text>
<rect x="72.5" y="10.4" width="129.5" height="33" rx="2" fill="#fff" fill-opacity="0.8" stroke="#ccc" stroke-width="0.8"/>
<path d="M76.5 18.2H99" stroke="#e5e5fe" stroke-width="1.1"/>
<path d="M76.5 33.6H99" stroke="#1f77b4" stroke-width="1.1"/>
<text x="107.6" y="22.5" font-size="10.7">Demand</text>
<text x="107.6" y="37.7" font-size="10.7">Rolling window 336</text>
<text class="cap" x="272" y="265" font-size="10.8" text-anchor="middle">(<tspan font-weight="bold">a</tspan>)</text>
<path d="M30.2 417.9H256.5" stroke="#cccccc" stroke-width="0.7"/>
<path d="M30.2 384.6H256.5" stroke="#cccccc" stroke-width="0.7"/>
<path d="M30.2 351.4H256.5" stroke="#cccccc" stroke-width="0.7"/>
<path d="M30.2 318.1H256.5" stroke="#cccccc" stroke-width="0.7"/>
<path d="M39.6 284.5V451.1" stroke="#dcdcdc" stroke-width="0.6"/>
<path d="M58.5 284.5V451.1" stroke="#dcdcdc" stroke-width="0.6"/>
<path d="M77.3 284.5V451.1" stroke="#dcdcdc" stroke-width="0.6"/>
<path d="M96.2 284.5V451.1" stroke="#dcdcdc" stroke-width="0.6"/>
<path d="M115.1 284.5V451.1" stroke="#dcdcdc" stroke-width="0.6"/>
<path d="M133.9 284.5V451.1" stroke="#dcdcdc" stroke-width="0.6"/>
<path d="M152.8 284.5V451.1" stroke="#dcdcdc" stroke-width="0.6"/>
<path d="M171.6 284.5V451.1" stroke="#dcdcdc" stroke-width="0.6"/>
<path d="M190.5 284.5V451.1" stroke="#dcdcdc" stroke-width="0.6"/>
<path d="M209.4 284.5V451.1" stroke="#dcdcdc" stroke-width="0.6"/>
<path d="M228.2 284.5V451.1" stroke="#dcdcdc" stroke-width="0.6"/>
<path d="M247.1 284.5V451.1" stroke="#dcdcdc" stroke-width="0.6"/>
<clipPath id="cb"><rect x="30.2" y="284.5" width="226.3" height="166.60000000000002"/></clipPath>
<g clip-path="url(#cb)">
<path d="M39.6 308.1V340.4M39.6 373.2V411.5" stroke="#4f9bd0" stroke-width="0.72" fill="none"/>
<rect x="34.9" y="340.4" width="9.4" height="32.8" stroke="#4f9bd0" stroke-width="0.72" fill="none"/>
<path d="M37.0 308.1H42.3M37.0 411.5H42.3" stroke="#333" stroke-width="0.8"/>
<path d="M34.9 357.2H44.3" stroke="#45ad45" stroke-width="0.75"/>
<path d="M37.7 358.6L39.6 354.9L41.5 358.6Z" fill="#18a028"/>
<path d="M58.5 298.2V329.7M58.5 362.3V385.3" stroke="#4f9bd0" stroke-width="0.72" fill="none"/>
<rect x="53.8" y="329.7" width="9.4" height="32.6" stroke="#4f9bd0" stroke-width="0.72" fill="none"/>
<path d="M55.8 298.2H61.1M55.8 385.3H61.1" stroke="#333" stroke-width="0.8"/>
<path d="M53.8 345.7H63.2" stroke="#45ad45" stroke-width="0.75"/>
<path d="M56.6 346.6L58.5 342.9L60.4 346.6Z" fill="#18a028"/>
<path d="M77.3 289.5V326.4M77.3 359.2V395.3" stroke="#4f9bd0" stroke-width="0.72" fill="none"/>
<rect x="72.6" y="326.4" width="9.4" height="32.8" stroke="#4f9bd0" stroke-width="0.72" fill="none"/>
<path d="M74.7 289.5H80.0M74.7 395.3H80.0" stroke="#333" stroke-width="0.8"/>
<path d="M72.6 344.0H82.1" stroke="#45ad45" stroke-width="0.75"/>
<path d="M75.4 344.6L77.3 340.9L79.2 344.6Z" fill="#18a028"/>
<path d="M96.2 290.3V327.7M96.2 365.1V401.8" stroke="#4f9bd0" stroke-width="0.72" fill="none"/>
<rect x="91.5" y="327.7" width="9.4" height="37.4" stroke="#4f9bd0" stroke-width="0.72" fill="none"/>
<path d="M93.6 290.3H98.9M93.6 401.8H98.9" stroke="#333" stroke-width="0.8"/>
<path d="M91.5 348.3H100.9" stroke="#45ad45" stroke-width="0.75"/>
<path d="M94.3 348.9L96.2 345.2L98.1 348.9Z" fill="#18a028"/>
<path d="M115.1 280.0V324.4M115.1 357.2V390.4" stroke="#4f9bd0" stroke-width="0.72" fill="none"/>
<rect x="110.3" y="324.4" width="9.4" height="32.8" stroke="#4f9bd0" stroke-width="0.72" fill="none"/>
<path d="M112.4 280.0H117.7M112.4 390.4H117.7" stroke="#333" stroke-width="0.8"/>
<path d="M110.3 342.2H119.8" stroke="#45ad45" stroke-width="0.75"/>
<path d="M113.2 342.2L115.1 338.5L117.0 342.2Z" fill="#18a028"/>
<path d="M133.9 297.1V326.2M133.9 359.0V388.3" stroke="#4f9bd0" stroke-width="0.72" fill="none"/>
<rect x="129.2" y="326.2" width="9.4" height="32.8" stroke="#4f9bd0" stroke-width="0.72" fill="none"/>
<path d="M131.3 297.1H136.6M131.3 388.3H136.6" stroke="#333" stroke-width="0.8"/>
<path d="M129.2 342.4H138.6" stroke="#45ad45" stroke-width="0.75"/>
<path d="M132.0 343.6L133.9 339.9L135.8 343.6Z" fill="#18a028"/>
<path d="M152.8 298.7V329.2M152.8 363.3V391.1" stroke="#4f9bd0" stroke-width="0.72" fill="none"/>
<rect x="148.1" y="329.2" width="9.4" height="34.1" stroke="#4f9bd0" stroke-width="0.72" fill="none"/>
<path d="M150.1 298.7H155.4M150.1 391.1H155.4" stroke="#333" stroke-width="0.8"/>
<path d="M148.1 347.5H157.5" stroke="#45ad45" stroke-width="0.75"/>
<path d="M150.9 347.8L152.8 344.1L154.7 347.8Z" fill="#18a028"/>
<path d="M171.6 300.4V328.4M171.6 363.5V391.1" stroke="#4f9bd0" stroke-width="0.72" fill="none"/>
<rect x="166.9" y="328.4" width="9.4" height="35.1" stroke="#4f9bd0" stroke-width="0.72" fill="none"/>
<path d="M169.0 300.4H174.3M169.0 391.1H174.3" stroke="#333" stroke-width="0.8"/>
<path d="M166.9 347.5H176.4" stroke="#45ad45" stroke-width="0.75"/>
<path d="M169.7 347.8L171.6 344.1L173.5 347.8Z" fill="#18a028"/>
<path d="M190.5 297.9V328.4M190.5 363.0V390.1" stroke="#4f9bd0" stroke-width="0.72" fill="none"/>
<rect x="185.8" y="328.4" width="9.4" height="34.6" stroke="#4f9bd0" stroke-width="0.72" fill="none"/>
<path d="M187.8 297.9H193.1M187.8 390.1H193.1" stroke="#333" stroke-width="0.8"/>
<path d="M185.8 345.5H195.2" stroke="#45ad45" stroke-width="0.75"/>
<path d="M188.6 346.6L190.5 342.9L192.4 346.6Z" fill="#18a028"/>
<path d="M209.4 304.8V332.5M209.4 366.1V393.9" stroke="#4f9bd0" stroke-width="0.72" fill="none"/>
<rect x="204.6" y="332.5" width="9.4" height="33.6" stroke="#4f9bd0" stroke-width="0.72" fill="none"/>
<path d="M206.7 304.8H212.0M206.7 393.9H212.0" stroke="#333" stroke-width="0.8"/>
<path d="M204.6 351.1H214.1" stroke="#45ad45" stroke-width="0.75"/>
<path d="M207.5 351.2L209.4 347.5L211.3 351.2Z" fill="#18a028"/>
<path d="M228.2 302.2V334.5M228.2 367.6V402.8" stroke="#4f9bd0" stroke-width="0.72" fill="none"/>
<rect x="223.5" y="334.5" width="9.4" height="33.1" stroke="#4f9bd0" stroke-width="0.72" fill="none"/>
<path d="M225.6 302.2H230.9M225.6 402.8H230.9" stroke="#333" stroke-width="0.8"/>
<path d="M223.5 353.1H232.9" stroke="#45ad45" stroke-width="0.75"/>
<path d="M226.3 352.9L228.2 349.2L230.1 352.9Z" fill="#18a028"/>
<path d="M247.1 301.2V343.2M247.1 377.3V423.9" stroke="#4f9bd0" stroke-width="0.72" fill="none"/>
<rect x="242.4" y="343.2" width="9.4" height="34.1" stroke="#4f9bd0" stroke-width="0.72" fill="none"/>
<path d="M244.4 301.2H249.7M244.4 423.9H249.7" stroke="#333" stroke-width="0.8"/>
<path d="M242.4 362.0H251.8" stroke="#45ad45" stroke-width="0.75"/>
<path d="M245.2 362.1L247.1 358.4L249.0 362.1Z" fill="#18a028"/>
</g>
<rect x="30.2" y="284.5" width="226.3" height="166.60000000000002" fill="none" stroke="#666" stroke-width="0.6"/>
<path d="M39.6 451.1V452.90000000000003" stroke="#444" stroke-width="0.6"/>
<text transform="translate(39.6,460.7) scale(0.835,1)" font-size="7.9" text-anchor="middle" stroke="#000" stroke-width="0.15">Jan</text>
<path d="M58.5 451.1V452.90000000000003" stroke="#444" stroke-width="0.6"/>
<text transform="translate(58.5,460.7) scale(0.835,1)" font-size="7.9" text-anchor="middle" stroke="#000" stroke-width="0.15">Feb</text>
<path d="M77.3 451.1V452.90000000000003" stroke="#444" stroke-width="0.6"/>
<text transform="translate(77.3,460.7) scale(0.835,1)" font-size="7.9" text-anchor="middle" stroke="#000" stroke-width="0.15">Mar</text>
<path d="M96.2 451.1V452.90000000000003" stroke="#444" stroke-width="0.6"/>
<text transform="translate(96.2,460.7) scale(0.835,1)" font-size="7.9" text-anchor="middle" stroke="#000" stroke-width="0.15">Apr</text>
<path d="M115.1 451.1V452.90000000000003" stroke="#444" stroke-width="0.6"/>
<text transform="translate(115.1,460.7) scale(0.835,1)" font-size="7.9" text-anchor="middle" stroke="#000" stroke-width="0.15">May</text>
<path d="M133.9 451.1V452.90000000000003" stroke="#444" stroke-width="0.6"/>
<text transform="translate(133.9,460.7) scale(0.835,1)" font-size="7.9" text-anchor="middle" stroke="#000" stroke-width="0.15">Jun</text>
<path d="M152.8 451.1V452.90000000000003" stroke="#444" stroke-width="0.6"/>
<text transform="translate(152.8,460.7) scale(0.835,1)" font-size="7.9" text-anchor="middle" stroke="#000" stroke-width="0.15">Jul</text>
<path d="M171.6 451.1V452.90000000000003" stroke="#444" stroke-width="0.6"/>
<text transform="translate(171.6,460.7) scale(0.835,1)" font-size="7.9" text-anchor="middle" stroke="#000" stroke-width="0.15">Aug</text>
<path d="M190.5 451.1V452.90000000000003" stroke="#444" stroke-width="0.6"/>
<text transform="translate(190.5,460.7) scale(0.835,1)" font-size="7.9" text-anchor="middle" stroke="#000" stroke-width="0.15">Sep</text>
<path d="M209.4 451.1V452.90000000000003" stroke="#444" stroke-width="0.6"/>
<text transform="translate(209.4,460.7) scale(0.835,1)" font-size="7.9" text-anchor="middle" stroke="#000" stroke-width="0.15">Oct</text>
<path d="M228.2 451.1V452.90000000000003" stroke="#444" stroke-width="0.6"/>
<text transform="translate(228.2,460.7) scale(0.835,1)" font-size="7.9" text-anchor="middle" stroke="#000" stroke-width="0.15">Nov</text>
<path d="M247.1 451.1V452.90000000000003" stroke="#444" stroke-width="0.6"/>
<text transform="translate(247.1,460.7) scale(0.835,1)" font-size="7.9" text-anchor="middle" stroke="#000" stroke-width="0.15">Dec</text>
<path d="M28.4 451.1H30.2" stroke="#444" stroke-width="0.6"/>
<text transform="translate(27.6,454.2) scale(0.835,1)" font-size="7.9" text-anchor="end" stroke="#000" stroke-width="0.15">0</text>
<path d="M28.4 417.9H30.2" stroke="#444" stroke-width="0.6"/>
<text transform="translate(27.6,421.0) scale(0.835,1)" font-size="7.9" text-anchor="end" stroke="#000" stroke-width="0.15">2000</text>
<path d="M28.4 384.6H30.2" stroke="#444" stroke-width="0.6"/>
<text transform="translate(27.6,387.7) scale(0.835,1)" font-size="7.9" text-anchor="end" stroke="#000" stroke-width="0.15">4000</text>
<path d="M28.4 351.4H30.2" stroke="#444" stroke-width="0.6"/>
<text transform="translate(27.6,354.5) scale(0.835,1)" font-size="7.9" text-anchor="end" stroke="#000" stroke-width="0.15">6000</text>
<path d="M28.4 318.1H30.2" stroke="#444" stroke-width="0.6"/>
<text transform="translate(27.6,321.2) scale(0.835,1)" font-size="7.9" text-anchor="end" stroke="#000" stroke-width="0.15">8000</text>
<text transform="translate(10.9,367.2) rotate(-90) scale(1,0.84)" font-size="7.93" text-anchor="middle" stroke="#000" stroke-width="0.15">Electricity demand (MW)</text>
<text class="cap" x="134.5" y="487" font-size="10.8" text-anchor="middle">(<tspan font-weight="bold">b</tspan>)</text>
<path d="M314.0 426.7H543.4" stroke="#bebebe" stroke-width="0.75"/>
<path d="M314.0 397.1H543.4" stroke="#bebebe" stroke-width="0.75"/>
<path d="M314.0 367.5H543.4" stroke="#bebebe" stroke-width="0.75"/>
<path d="M314.0 337.9H543.4" stroke="#bebebe" stroke-width="0.75"/>
<path d="M314.0 308.3H543.4" stroke="#bebebe" stroke-width="0.75"/>
<path d="M355.5 279.0V450.6" stroke="#bebebe" stroke-width="0.75"/>
<path d="M397.5 279.0V450.6" stroke="#bebebe" stroke-width="0.75"/>
<path d="M439.5 279.0V450.6" stroke="#bebebe" stroke-width="0.75"/>
<path d="M480.5 279.0V450.6" stroke="#bebebe" stroke-width="0.75"/>
<path d="M522.5 279.0V450.6" stroke="#bebebe" stroke-width="0.75"/>
<clipPath id="cc"><rect x="314.0" y="279.0" width="229.39999999999998" height="171.60000000000002"/></clipPath>
<g clip-path="url(#cc)">
<path d="M314.0 397.4 L334.9 357.6 L355.7 338.6 L376.6 348.3 L397.4 333.8 L418.3 324.3 L439.1 346.5 L460.0 360.1 L480.8 347.3 L501.7 368.3 L522.5 370.8 L543.4 392.1" stroke="#0000ff" stroke-width="1.2" fill="none" stroke-linejoin="round"/>
<path d="M314.0 397.4 L334.9 357.6 L355.7 361.9 L376.6 367.0 L397.4 336.4 L418.3 332.0 L439.1 349.6 L460.0 344.0 L480.8 339.4 L501.7 389.0 L522.5 416.7 L543.4 442.8" stroke="#ff0000" stroke-width="1.2" fill="none" stroke-linejoin="round"/>
<path d="M314.0 397.4 L334.9 349.1 L355.7 312.1 L376.6 330.5 L397.4 308.3 L418.3 326.2 L439.1 330.8 L460.0 342.0 L480.8 344.0 L501.7 336.9 L522.5 332.0 L543.4 352.2" stroke="#bfbf00" stroke-width="1.2" fill="none" stroke-linejoin="round"/>
<path d="M314.0 357.6 L334.9 320.3 L355.7 301.1 L376.6 324.9 L397.4 286.0 L418.3 317.2 L439.1 331.3 L460.0 326.9 L480.8 330.0 L501.7 333.8 L522.5 332.0 L543.4 409.1" stroke="#000000" stroke-width="1.2" fill="none" stroke-linejoin="round"/>
</g>
<rect x="314.0" y="279.0" width="229.39999999999998" height="171.60000000000002" fill="none" stroke="#5c5c5c" stroke-width="1"/>
<path d="M311.0 426.7H314.0" stroke="#333" stroke-width="0.8"/>
<text x="309.4" y="430.5" font-size="10.4" text-anchor="end">5000</text>
<path d="M311.0 397.1H314.0" stroke="#333" stroke-width="0.8"/>
<text x="309.4" y="400.9" font-size="10.4" text-anchor="end">5500</text>
<path d="M311.0 367.5H314.0" stroke="#333" stroke-width="0.8"/>
<text x="309.4" y="371.3" font-size="10.4" text-anchor="end">6000</text>
<path d="M311.0 337.9H314.0" stroke="#333" stroke-width="0.8"/>
<text x="309.4" y="341.7" font-size="10.4" text-anchor="end">6500</text>
<path d="M311.0 308.3H314.0" stroke="#333" stroke-width="0.8"/>
<text x="309.4" y="312.1" font-size="10.4" text-anchor="end">7000</text>
<path d="M314.0 450.6V453.6" stroke="#333" stroke-width="0.8"/>
<text x="314.0" y="462.2" font-size="10.4" text-anchor="middle">Jan</text>
<path d="M355.7 450.6V453.6" stroke="#333" stroke-width="0.8"/>
<text x="355.7" y="462.2" font-size="10.4" text-anchor="middle">Mar</text>
<path d="M397.4 450.6V453.6" stroke="#333" stroke-width="0.8"/>
<text x="397.4" y="462.2" font-size="10.4" text-anchor="middle">May</text>
<path d="M439.1 450.6V453.6" stroke="#333" stroke-width="0.8"/>
<text x="439.1" y="462.2" font-size="10.4" text-anchor="middle">Jul</text>
<path d="M480.8 450.6V453.6" stroke="#333" stroke-width="0.8"/>
<text x="480.8" y="462.2" font-size="10.4" text-anchor="middle">Sep</text>
<path d="M522.5 450.6V453.6" stroke="#333" stroke-width="0.8"/>
<text x="522.5" y="462.2" font-size="10.4" text-anchor="middle">Nov</text>
<text transform="translate(283.2,365.0) rotate(-90)" font-size="10.4" text-anchor="middle">Electricity demand (MW)</text>
<rect x="400.1" y="369.5" width="57.9" height="75.9" rx="2" fill="#fff" fill-opacity="0.8" stroke="#ccc" stroke-width="0.8"/>
<text x="428.6" y="380.2" font-size="10.3" text-anchor="middle">Year</text>
<path d="M403.7 391.4H424.5" stroke="#0000ff" stroke-width="1.2"/>
<text x="433.3" y="395.0" font-size="10.3">2010</text>
<path d="M403.7 406.0H424.5" stroke="#ff0000" stroke-width="1.2"/>
<text x="433.3" y="409.6" font-size="10.3">2011</text>
<path d="M403.7 420.6H424.5" stroke="#bfbf00" stroke-width="1.2"/>
<text x="433.3" y="424.2" font-size="10.3">2012</text>
<path d="M403.7 435.2H424.5" stroke="#000000" stroke-width="1.2"/>
<text x="433.3" y="438.8" font-size="10.3">2013</text>
<text class="cap" x="410" y="487" font-size="10.8" text-anchor="middle">(<tspan font-weight="bold">c</tspan>)</text>
</svg></body></html>
